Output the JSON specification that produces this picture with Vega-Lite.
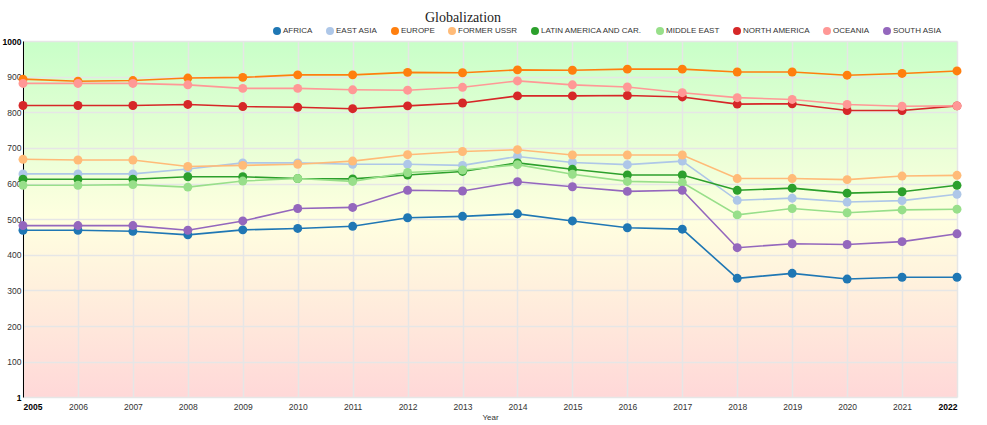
{
  "$schema": "https://vega.github.io/schema/vega-lite/v6.json",
  "width": 934,
  "height": 356,
  "autosize": {"type": "none"},
  "padding": {"left": 23, "top": 41, "right": 30, "bottom": 28},
  "background": "white",
  "title": {
    "text": "Globalization",
    "font": "Liberation Serif",
    "fontSize": 14,
    "fontWeight": "normal",
    "color": "#222",
    "anchor": "middle",
    "dx": -27,
    "dy": 18,
    "offset": 20
  },
  "config": {
    "view": {
      "stroke": null,
      "fill": {
        "gradient": "linear",
        "x1": 0, "y1": 0, "x2": 0, "y2": 1,
        "stops": [
          {"offset": 0, "color": "#c8ffc8"},
          {"offset": 0.5, "color": "#ffffe0"},
          {"offset": 1, "color": "#ffd8d8"}
        ]
      }
    },
    "axis": {
      "labelFont": "Liberation Sans",
      "titleFont": "Liberation Sans",
      "labelColor": "#333",
      "titleColor": "#333",
      "gridColor": "#e6e6e6",
      "gridWidth": 1.5
    },
    "legend": {
      "labelFont": "Liberation Sans"
    }
  },
  "data": {
    "values": [
      {"Year": 2005, "Region": "AFRICA", "Value": 469},
      {"Year": 2006, "Region": "AFRICA", "Value": 469},
      {"Year": 2007, "Region": "AFRICA", "Value": 466},
      {"Year": 2008, "Region": "AFRICA", "Value": 456},
      {"Year": 2009, "Region": "AFRICA", "Value": 470},
      {"Year": 2010, "Region": "AFRICA", "Value": 474},
      {"Year": 2011, "Region": "AFRICA", "Value": 480},
      {"Year": 2012, "Region": "AFRICA", "Value": 504},
      {"Year": 2013, "Region": "AFRICA", "Value": 508},
      {"Year": 2014, "Region": "AFRICA", "Value": 515},
      {"Year": 2015, "Region": "AFRICA", "Value": 495},
      {"Year": 2016, "Region": "AFRICA", "Value": 476},
      {"Year": 2017, "Region": "AFRICA", "Value": 472},
      {"Year": 2018, "Region": "AFRICA", "Value": 334},
      {"Year": 2019, "Region": "AFRICA", "Value": 348},
      {"Year": 2020, "Region": "AFRICA", "Value": 332},
      {"Year": 2021, "Region": "AFRICA", "Value": 337},
      {"Year": 2022, "Region": "AFRICA", "Value": 337},

      {"Year": 2005, "Region": "EAST ASIA", "Value": 627},
      {"Year": 2006, "Region": "EAST ASIA", "Value": 627},
      {"Year": 2007, "Region": "EAST ASIA", "Value": 627},
      {"Year": 2008, "Region": "EAST ASIA", "Value": 641},
      {"Year": 2009, "Region": "EAST ASIA", "Value": 658},
      {"Year": 2010, "Region": "EAST ASIA", "Value": 658},
      {"Year": 2011, "Region": "EAST ASIA", "Value": 654},
      {"Year": 2012, "Region": "EAST ASIA", "Value": 654},
      {"Year": 2013, "Region": "EAST ASIA", "Value": 651},
      {"Year": 2014, "Region": "EAST ASIA", "Value": 676},
      {"Year": 2015, "Region": "EAST ASIA", "Value": 659},
      {"Year": 2016, "Region": "EAST ASIA", "Value": 653},
      {"Year": 2017, "Region": "EAST ASIA", "Value": 663},
      {"Year": 2018, "Region": "EAST ASIA", "Value": 553},
      {"Year": 2019, "Region": "EAST ASIA", "Value": 559},
      {"Year": 2020, "Region": "EAST ASIA", "Value": 548},
      {"Year": 2021, "Region": "EAST ASIA", "Value": 552},
      {"Year": 2022, "Region": "EAST ASIA", "Value": 570},

      {"Year": 2005, "Region": "EUROPE", "Value": 893},
      {"Year": 2006, "Region": "EUROPE", "Value": 887},
      {"Year": 2007, "Region": "EUROPE", "Value": 889},
      {"Year": 2008, "Region": "EUROPE", "Value": 896},
      {"Year": 2009, "Region": "EUROPE", "Value": 898},
      {"Year": 2010, "Region": "EUROPE", "Value": 905},
      {"Year": 2011, "Region": "EUROPE", "Value": 905},
      {"Year": 2012, "Region": "EUROPE", "Value": 912},
      {"Year": 2013, "Region": "EUROPE", "Value": 911},
      {"Year": 2014, "Region": "EUROPE", "Value": 919},
      {"Year": 2015, "Region": "EUROPE", "Value": 918},
      {"Year": 2016, "Region": "EUROPE", "Value": 921},
      {"Year": 2017, "Region": "EUROPE", "Value": 921},
      {"Year": 2018, "Region": "EUROPE", "Value": 913},
      {"Year": 2019, "Region": "EUROPE", "Value": 913},
      {"Year": 2020, "Region": "EUROPE", "Value": 904},
      {"Year": 2021, "Region": "EUROPE", "Value": 909},
      {"Year": 2022, "Region": "EUROPE", "Value": 916},

      {"Year": 2005, "Region": "FORMER USSR", "Value": 668},
      {"Year": 2006, "Region": "FORMER USSR", "Value": 666},
      {"Year": 2007, "Region": "FORMER USSR", "Value": 666},
      {"Year": 2008, "Region": "FORMER USSR", "Value": 648},
      {"Year": 2009, "Region": "FORMER USSR", "Value": 651},
      {"Year": 2010, "Region": "FORMER USSR", "Value": 654},
      {"Year": 2011, "Region": "FORMER USSR", "Value": 663},
      {"Year": 2012, "Region": "FORMER USSR", "Value": 681},
      {"Year": 2013, "Region": "FORMER USSR", "Value": 690},
      {"Year": 2014, "Region": "FORMER USSR", "Value": 695},
      {"Year": 2015, "Region": "FORMER USSR", "Value": 680},
      {"Year": 2016, "Region": "FORMER USSR", "Value": 680},
      {"Year": 2017, "Region": "FORMER USSR", "Value": 680},
      {"Year": 2018, "Region": "FORMER USSR", "Value": 614},
      {"Year": 2019, "Region": "FORMER USSR", "Value": 614},
      {"Year": 2020, "Region": "FORMER USSR", "Value": 611},
      {"Year": 2021, "Region": "FORMER USSR", "Value": 621},
      {"Year": 2022, "Region": "FORMER USSR", "Value": 623},

      {"Year": 2005, "Region": "LATIN AMERICA AND CAR.", "Value": 612},
      {"Year": 2006, "Region": "LATIN AMERICA AND CAR.", "Value": 612},
      {"Year": 2007, "Region": "LATIN AMERICA AND CAR.", "Value": 612},
      {"Year": 2008, "Region": "LATIN AMERICA AND CAR.", "Value": 619},
      {"Year": 2009, "Region": "LATIN AMERICA AND CAR.", "Value": 619},
      {"Year": 2010, "Region": "LATIN AMERICA AND CAR.", "Value": 614},
      {"Year": 2011, "Region": "LATIN AMERICA AND CAR.", "Value": 613},
      {"Year": 2012, "Region": "LATIN AMERICA AND CAR.", "Value": 624},
      {"Year": 2013, "Region": "LATIN AMERICA AND CAR.", "Value": 634},
      {"Year": 2014, "Region": "LATIN AMERICA AND CAR.", "Value": 658},
      {"Year": 2015, "Region": "LATIN AMERICA AND CAR.", "Value": 640},
      {"Year": 2016, "Region": "LATIN AMERICA AND CAR.", "Value": 624},
      {"Year": 2017, "Region": "LATIN AMERICA AND CAR.", "Value": 624},
      {"Year": 2018, "Region": "LATIN AMERICA AND CAR.", "Value": 581},
      {"Year": 2019, "Region": "LATIN AMERICA AND CAR.", "Value": 587},
      {"Year": 2020, "Region": "LATIN AMERICA AND CAR.", "Value": 573},
      {"Year": 2021, "Region": "LATIN AMERICA AND CAR.", "Value": 577},
      {"Year": 2022, "Region": "LATIN AMERICA AND CAR.", "Value": 595},

      {"Year": 2005, "Region": "MIDDLE EAST", "Value": 595},
      {"Year": 2006, "Region": "MIDDLE EAST", "Value": 595},
      {"Year": 2007, "Region": "MIDDLE EAST", "Value": 597},
      {"Year": 2008, "Region": "MIDDLE EAST", "Value": 590},
      {"Year": 2009, "Region": "MIDDLE EAST", "Value": 607},
      {"Year": 2010, "Region": "MIDDLE EAST", "Value": 614},
      {"Year": 2011, "Region": "MIDDLE EAST", "Value": 606},
      {"Year": 2012, "Region": "MIDDLE EAST", "Value": 631},
      {"Year": 2013, "Region": "MIDDLE EAST", "Value": 638},
      {"Year": 2014, "Region": "MIDDLE EAST", "Value": 653},
      {"Year": 2015, "Region": "MIDDLE EAST", "Value": 626},
      {"Year": 2016, "Region": "MIDDLE EAST", "Value": 606},
      {"Year": 2017, "Region": "MIDDLE EAST", "Value": 603},
      {"Year": 2018, "Region": "MIDDLE EAST", "Value": 512},
      {"Year": 2019, "Region": "MIDDLE EAST", "Value": 530},
      {"Year": 2020, "Region": "MIDDLE EAST", "Value": 518},
      {"Year": 2021, "Region": "MIDDLE EAST", "Value": 526},
      {"Year": 2022, "Region": "MIDDLE EAST", "Value": 528},

      {"Year": 2005, "Region": "NORTH AMERICA", "Value": 819},
      {"Year": 2006, "Region": "NORTH AMERICA", "Value": 819},
      {"Year": 2007, "Region": "NORTH AMERICA", "Value": 819},
      {"Year": 2008, "Region": "NORTH AMERICA", "Value": 822},
      {"Year": 2009, "Region": "NORTH AMERICA", "Value": 816},
      {"Year": 2010, "Region": "NORTH AMERICA", "Value": 814},
      {"Year": 2011, "Region": "NORTH AMERICA", "Value": 810},
      {"Year": 2012, "Region": "NORTH AMERICA", "Value": 818},
      {"Year": 2013, "Region": "NORTH AMERICA", "Value": 826},
      {"Year": 2014, "Region": "NORTH AMERICA", "Value": 846},
      {"Year": 2015, "Region": "NORTH AMERICA", "Value": 846},
      {"Year": 2016, "Region": "NORTH AMERICA", "Value": 847},
      {"Year": 2017, "Region": "NORTH AMERICA", "Value": 843},
      {"Year": 2018, "Region": "NORTH AMERICA", "Value": 823},
      {"Year": 2019, "Region": "NORTH AMERICA", "Value": 824},
      {"Year": 2020, "Region": "NORTH AMERICA", "Value": 805},
      {"Year": 2021, "Region": "NORTH AMERICA", "Value": 805},
      {"Year": 2022, "Region": "NORTH AMERICA", "Value": 818},

      {"Year": 2005, "Region": "OCEANIA", "Value": 881},
      {"Year": 2006, "Region": "OCEANIA", "Value": 881},
      {"Year": 2007, "Region": "OCEANIA", "Value": 881},
      {"Year": 2008, "Region": "OCEANIA", "Value": 877},
      {"Year": 2009, "Region": "OCEANIA", "Value": 867},
      {"Year": 2010, "Region": "OCEANIA", "Value": 867},
      {"Year": 2011, "Region": "OCEANIA", "Value": 863},
      {"Year": 2012, "Region": "OCEANIA", "Value": 862},
      {"Year": 2013, "Region": "OCEANIA", "Value": 870},
      {"Year": 2014, "Region": "OCEANIA", "Value": 888},
      {"Year": 2015, "Region": "OCEANIA", "Value": 877},
      {"Year": 2016, "Region": "OCEANIA", "Value": 871},
      {"Year": 2017, "Region": "OCEANIA", "Value": 855},
      {"Year": 2018, "Region": "OCEANIA", "Value": 841},
      {"Year": 2019, "Region": "OCEANIA", "Value": 836},
      {"Year": 2020, "Region": "OCEANIA", "Value": 822},
      {"Year": 2021, "Region": "OCEANIA", "Value": 817},
      {"Year": 2022, "Region": "OCEANIA", "Value": 818},

      {"Year": 2005, "Region": "SOUTH ASIA", "Value": 482},
      {"Year": 2006, "Region": "SOUTH ASIA", "Value": 482},
      {"Year": 2007, "Region": "SOUTH ASIA", "Value": 482},
      {"Year": 2008, "Region": "SOUTH ASIA", "Value": 469},
      {"Year": 2009, "Region": "SOUTH ASIA", "Value": 495},
      {"Year": 2010, "Region": "SOUTH ASIA", "Value": 530},
      {"Year": 2011, "Region": "SOUTH ASIA", "Value": 533},
      {"Year": 2012, "Region": "SOUTH ASIA", "Value": 581},
      {"Year": 2013, "Region": "SOUTH ASIA", "Value": 579},
      {"Year": 2014, "Region": "SOUTH ASIA", "Value": 605},
      {"Year": 2015, "Region": "SOUTH ASIA", "Value": 591},
      {"Year": 2016, "Region": "SOUTH ASIA", "Value": 578},
      {"Year": 2017, "Region": "SOUTH ASIA", "Value": 581},
      {"Year": 2018, "Region": "SOUTH ASIA", "Value": 420},
      {"Year": 2019, "Region": "SOUTH ASIA", "Value": 431},
      {"Year": 2020, "Region": "SOUTH ASIA", "Value": 429},
      {"Year": 2021, "Region": "SOUTH ASIA", "Value": 437},
      {"Year": 2022, "Region": "SOUTH ASIA", "Value": 459}
    ]
  },
  "mark": {
    "type": "line",
    "strokeWidth": 1.6,
    "point": {"filled": true, "size": 80, "opacity": 1}
  },
  "encoding": {
    "x": {
      "field": "Year",
      "type": "quantitative",
      "scale": {"domain": [2005, 2022], "nice": false, "zero": false},
      "axis": {
        "values": [2005, 2006, 2007, 2008, 2009, 2010, 2011, 2012, 2013, 2014, 2015, 2016, 2017, 2018, 2019, 2020, 2021, 2022],
        "format": "d",
        "title": "Year",
        "titleFontSize": 8,
        "titleFontWeight": "normal",
        "titlePadding": 3,
        "labelFontSize": 8.5,
        "labelPadding": 5,
        "labelFontWeight": {"expr": "datum.index == 0 || datum.index == 1 ? 'bold' : 'normal'"},
        "labelColor": {"expr": "datum.index == 0 || datum.index == 1 ? '#000' : '#333'"},
        "domain": false,
        "ticks": false,
        "grid": true
      }
    },
    "y": {
      "field": "Value",
      "type": "quantitative",
      "scale": {"domain": [1, 1000], "nice": false, "zero": false},
      "axis": {
        "values": [1, 100, 200, 300, 400, 500, 600, 700, 800, 900, 1000],
        "format": "d",
        "title": null,
        "labelFontSize": 8.5,
        "labelPadding": 2,
        "labelFontWeight": {"expr": "datum.index == 0 || datum.index == 1 ? 'bold' : 'normal'"},
        "labelColor": {"expr": "datum.index == 0 || datum.index == 1 ? '#000' : '#333'"},
        "domain": true,
        "domainColor": "#000",
        "domainWidth": 1,
        "ticks": false,
        "grid": true
      }
    },
    "color": {
      "field": "Region",
      "type": "nominal",
      "scale": {
        "domain": ["AFRICA", "EAST ASIA", "EUROPE", "FORMER USSR", "LATIN AMERICA AND CAR.", "MIDDLE EAST", "NORTH AMERICA", "OCEANIA", "SOUTH ASIA"],
        "range": ["#1f77b4", "#aec7e8", "#ff7f0e", "#ffbb78", "#2ca02c", "#98df8a", "#d62728", "#ff9896", "#9467bd"]
      },
      "legend": {
        "title": null,
        "orient": "none",
        "direction": "horizontal",
        "legendX": 250,
        "legendY": -14,
        "padding": 0,
        "symbolType": "circle",
        "symbolSize": 64,
        "symbolStrokeWidth": 0,
        "symbolOpacity": 1,
        "labelFontSize": 8,
        "labelColor": "#333",
        "labelOffset": 2,
        "columnPadding": 13
      }
    }
  }
}
